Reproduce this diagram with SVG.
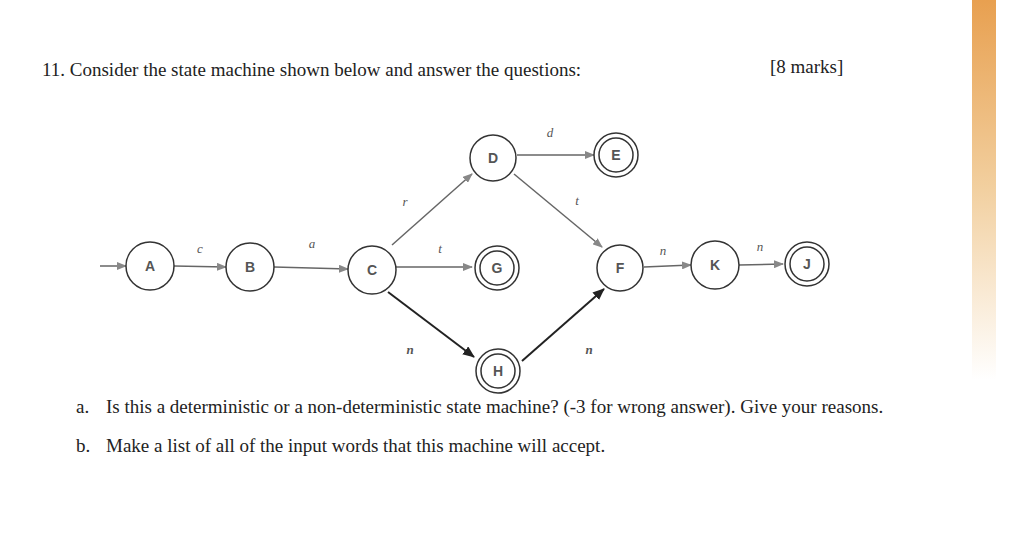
<svg xmlns="http://www.w3.org/2000/svg" width="1024" height="550" viewBox="0 0 1024 550">
<defs>
<style>
.n{fill:#fff;stroke:#333;stroke-width:1.5}
.nl{font-family:"Liberation Sans",Arial,sans-serif;font-size:14px;font-weight:bold;fill:#555;text-anchor:middle;dominant-baseline:central}
.e{stroke:#666;stroke-width:1.5;fill:none;marker-end:url(#ah)}
.eb{stroke:#222;stroke-width:2;fill:none;marker-end:url(#ahb)}
.el{font-family:"Liberation Serif",serif;font-style:italic;font-size:13px;fill:#555;text-anchor:middle}
.t{font-family:"Liberation Serif","Times New Roman",serif;font-size:19px;fill:#222}
</style>
<marker id="ah" markerWidth="10" markerHeight="8" refX="9" refY="4" orient="auto" markerUnits="userSpaceOnUse"><path d="M0,0 L10,4 L0,8 Z" fill="#888"/></marker>
<marker id="ahb" markerWidth="12" markerHeight="10" refX="11" refY="5" orient="auto" markerUnits="userSpaceOnUse"><path d="M0,0 L12,5 L0,10 Z" fill="#222"/></marker>
<linearGradient id="og" x1="0" y1="0" x2="0" y2="1"><stop offset="0" stop-color="#e8a050"/><stop offset="0.5" stop-color="#f2d0a0"/><stop offset="1" stop-color="#fff"/></linearGradient>
</defs>
<rect width="1024" height="550" fill="#fff"/>
<rect x="972" y="0" width="24" height="380" fill="url(#og)"/>
<text class="t" x="42" y="76">11. Consider the state machine shown below and answer the questions:</text>
<text class="t" x="770" y="73" font-size="17">[8 marks]</text>
<g id="connectors">
<line class="e" x1="100" y1="266" x2="126" y2="266"/>
<line class="e" x1="174" y1="266" x2="226" y2="267"/>
<line class="e" x1="274" y1="267" x2="348" y2="269"/>
<line class="e" x1="392" y1="245" x2="472" y2="174"/>
<line class="e" x1="396" y1="267" x2="472" y2="267"/>
<line class="eb" x1="388" y1="292" x2="474" y2="357"/>
<line class="e" x1="517" y1="155" x2="594" y2="155"/>
<line class="e" x1="514" y1="174" x2="602" y2="247"/>
<line class="eb" x1="522" y1="361" x2="604" y2="289"/>
<line class="e" x1="644" y1="267" x2="691" y2="265"/>
<line class="e" x1="739" y1="265" x2="783" y2="264"/>
</g>
<g id="edge-labels">
<text class="el" x="200" y="253">c</text>
<text class="el" x="312" y="248">a</text>
<text class="el" x="405" y="206">r</text>
<text class="el" x="440" y="253">t</text>
<text class="el" x="410" y="354" fill="#222" font-weight="bold">n</text>
<text class="el" x="550" y="137" font-size="15">d</text>
<text class="el" x="577" y="205">t</text>
<text class="el" x="663" y="255">n</text>
<text class="el" x="760" y="251">n</text>
<text class="el" x="589" y="354" fill="#222" font-weight="bold">n</text>
</g>
<g id="A"><circle class="n" cx="150" cy="266" r="24"/><text class="nl" x="150" y="266">A</text></g>
<g id="B"><circle class="n" cx="250" cy="267" r="24"/><text class="nl" x="250" y="267">B</text></g>
<g id="C"><circle class="n" cx="372" cy="270" r="24"/><text class="nl" x="372" y="270">C</text></g>
<g id="D"><circle class="n" cx="493" cy="158" r="23"/><text class="nl" x="493" y="158">D</text></g>
<g id="E"><circle class="n" cx="616" cy="155" r="22"/><circle class="n" cx="616" cy="155" r="17"/><text class="nl" x="616" y="155" fill="#222">E</text></g>
<g id="G"><circle class="n" cx="497" cy="268" r="22"/><circle class="n" cx="497" cy="268" r="17"/><text class="nl" x="497" y="268">G</text></g>
<g id="H"><circle class="n" cx="498" cy="371" r="22" stroke="#111" stroke-width="2"/><circle class="n" cx="498" cy="371" r="17" stroke="#111" stroke-width="2"/><text class="nl" x="498" y="371" fill="#111" font-size="16">H</text></g>
<g id="F"><circle class="n" cx="620" cy="268" r="23"/><text class="nl" x="620" y="268">F</text></g>
<g id="K"><circle class="n" cx="715" cy="265" r="24"/><text class="nl" x="715" y="265">K</text></g>
<g id="J"><circle class="n" cx="807" cy="264" r="22"/><circle class="n" cx="807" cy="264" r="17"/><text class="nl" x="807" y="264">J</text></g>
<text class="t" x="76" y="413">a.</text>
<text class="t" x="106" y="413">Is this a deterministic or a non-deterministic state machine? (-3 for wrong answer). Give your reasons.</text>
<text class="t" x="76" y="452">b.</text>
<text class="t" x="106" y="452">Make a list of all of the input words that this machine will accept.</text>
</svg>
